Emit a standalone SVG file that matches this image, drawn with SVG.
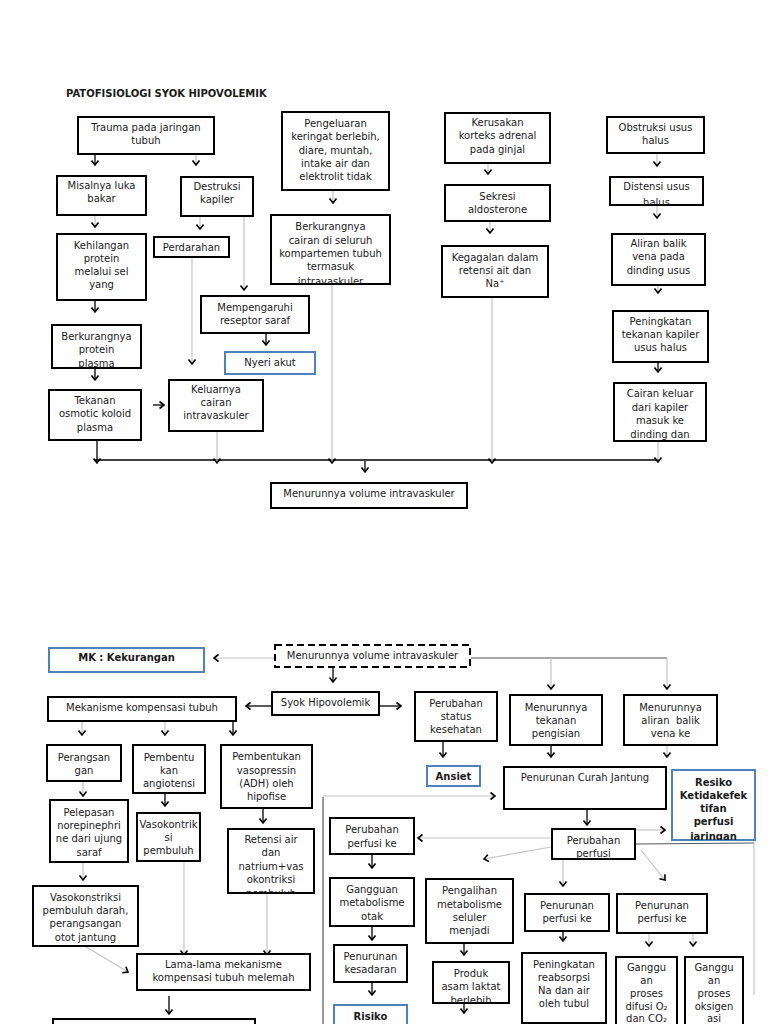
<svg xmlns="http://www.w3.org/2000/svg" width="768" height="1024" viewBox="0 0 768 1024">
<style>
.bx{fill:#fff;stroke:#000;stroke-width:2}
.bl{fill:#fff;stroke:#4f81bd;stroke-width:2}
.ds{fill:#fff;stroke:#000;stroke-width:2;stroke-dasharray:7,4}
text{font-family:"DejaVu Sans","Liberation Sans",sans-serif;font-size:10px;fill:#1a1a1a;text-anchor:middle}
.bd{font-weight:bold}
.ti{font-weight:bold;font-size:10px;text-anchor:start}
.g{stroke:#c4c4c4;stroke-width:1.2;fill:none}
.k{stroke:#000;stroke-width:1.3;fill:none}
.d{stroke:#555;stroke-width:1.2;fill:none}
</style>
<defs>
<marker id="a" markerWidth="8" markerHeight="8" refX="4.5" refY="3.5" orient="auto" markerUnits="userSpaceOnUse" overflow="visible"><path d="M0,0 L4.5,3.5 L0,7" fill="none" stroke="#000" stroke-width="1.6"/></marker>
<clipPath id="c7"><rect x="271" y="215" width="119" height="69"/></clipPath>
<clipPath id="c12"><rect x="610" y="177" width="93" height="28"/></clipPath>
<clipPath id="c15"><rect x="614" y="383" width="92" height="58"/></clipPath>
<clipPath id="c18"><rect x="52" y="325" width="89" height="43"/></clipPath>
<clipPath id="cR"><rect x="672" y="770" width="83" height="70"/></clipPath>
<clipPath id="cP"><rect x="433" y="962" width="76" height="41"/></clipPath>
<clipPath id="cL6"><rect x="228" y="829" width="86" height="64"/></clipPath>
</defs>
<rect width="768" height="1024" fill="#fff"/>
<text class="ti" x="66" y="97">PATOFISIOLOGI SYOK HIPOVOLEMIK</text>

<g id="connectors">
<line class="k" x1="95" y1="155" x2="95" y2="165" marker-end="url(#a)"/>
<line class="g" x1="196" y1="155" x2="196" y2="165" marker-end="url(#a)"/>
<line class="g" x1="95" y1="216" x2="95" y2="227" marker-end="url(#a)"/>
<line class="g" x1="200" y1="217" x2="200" y2="229" marker-end="url(#a)"/>
<line class="g" x1="244" y1="217" x2="244" y2="290" marker-end="url(#a)"/>
<line class="k" x1="95" y1="301" x2="95" y2="312" marker-end="url(#a)"/>
<line class="k" x1="95" y1="369" x2="95" y2="380" marker-end="url(#a)"/>
<line class="g" x1="192" y1="258" x2="192" y2="364" marker-end="url(#a)"/>
<line class="g" x1="333" y1="191" x2="333" y2="203" marker-end="url(#a)"/>
<line class="g" x1="488" y1="164" x2="488" y2="174" marker-end="url(#a)"/>
<line class="g" x1="490" y1="222" x2="490" y2="233" marker-end="url(#a)"/>
<line class="g" x1="657" y1="154" x2="657" y2="166" marker-end="url(#a)"/>
<line class="g" x1="657" y1="206" x2="657" y2="218" marker-end="url(#a)"/>
<line class="g" x1="658" y1="286" x2="658" y2="293" marker-end="url(#a)"/>
<line class="k" x1="658" y1="363" x2="658" y2="372" marker-end="url(#a)"/>
<line class="k" x1="266" y1="334" x2="266" y2="345" marker-end="url(#a)"/>
<line class="k" x1="153" y1="405" x2="164" y2="405" marker-end="url(#a)"/>
<line class="k" x1="95" y1="460" x2="660" y2="460"/>
<line class="k" x1="97" y1="441" x2="97" y2="463" marker-end="url(#a)"/>
<line class="g" x1="217" y1="432" x2="217" y2="463" marker-end="url(#a)"/>
<line class="g" x1="332" y1="285" x2="332" y2="463" marker-end="url(#a)"/>
<line class="g" x1="492" y1="298" x2="492" y2="463" marker-end="url(#a)"/>
<line class="g" x1="658" y1="442" x2="658" y2="462" marker-end="url(#a)"/>
<line class="k" x1="365" y1="461" x2="365" y2="472" marker-end="url(#a)"/>

<line class="g" x1="274" y1="658" x2="214" y2="658" marker-end="url(#a)"/>
<line class="k" x1="333" y1="668" x2="333" y2="682" marker-end="url(#a)"/>
<polyline class="d" points="471,658 667,658"/>
<line class="g" x1="551" y1="658" x2="551" y2="689" marker-end="url(#a)"/>
<line class="g" x1="667" y1="658" x2="667" y2="689" marker-end="url(#a)"/>
<line class="k" x1="271" y1="706" x2="246" y2="706" marker-end="url(#a)"/>
<line class="k" x1="380" y1="706" x2="401" y2="706" marker-end="url(#a)"/>
<line class="g" x1="82" y1="722" x2="82" y2="735" marker-end="url(#a)"/>
<line class="g" x1="165" y1="722" x2="165" y2="735" marker-end="url(#a)"/>
<line class="k" x1="233" y1="722" x2="233" y2="735" marker-end="url(#a)"/>
<line class="k" x1="443" y1="742" x2="443" y2="757" marker-end="url(#a)"/>
<line class="k" x1="551" y1="746" x2="551" y2="757" marker-end="url(#a)"/>
<line class="g" x1="667" y1="746" x2="667" y2="757" marker-end="url(#a)"/>
<line class="d" x1="323" y1="797" x2="323" y2="1024"/>
<line class="g" x1="323" y1="796" x2="495" y2="796" marker-end="url(#a)"/>
<line class="k" x1="587" y1="810" x2="587" y2="825" marker-end="url(#a)"/>
<line class="g" x1="636" y1="830" x2="665" y2="830" marker-end="url(#a)"/>
<line class="g" x1="551" y1="838" x2="418" y2="838" marker-end="url(#a)"/>
<line class="g" x1="551" y1="847" x2="484" y2="859" marker-end="url(#a)"/>
<line class="g" x1="641" y1="850" x2="665" y2="880" marker-end="url(#a)"/>
<polyline class="d" points="636,844 754,843"/>
<line class="g" x1="754" y1="843" x2="754" y2="995"/>
<line class="g" x1="563" y1="860" x2="563" y2="886" marker-end="url(#a)"/>
<line class="k" x1="372" y1="855" x2="372" y2="868" marker-end="url(#a)"/>
<line class="k" x1="372" y1="927" x2="372" y2="940" marker-end="url(#a)"/>
<line class="k" x1="372" y1="983" x2="372" y2="995" marker-end="url(#a)"/>
<line class="k" x1="464" y1="944" x2="464" y2="955" marker-end="url(#a)"/>
<line class="k" x1="464" y1="1004" x2="464" y2="1013" marker-end="url(#a)"/>
<line class="k" x1="563" y1="932" x2="563" y2="941" marker-end="url(#a)"/>
<line class="g" x1="649" y1="934" x2="649" y2="946" marker-end="url(#a)"/>
<line class="g" x1="693" y1="934" x2="693" y2="946" marker-end="url(#a)"/>
<line class="g" x1="83" y1="782" x2="83" y2="796" marker-end="url(#a)"/>
<line class="k" x1="165" y1="794" x2="165" y2="806" marker-end="url(#a)"/>
<line class="k" x1="263" y1="809" x2="263" y2="823" marker-end="url(#a)"/>
<line class="g" x1="83" y1="863" x2="83" y2="880" marker-end="url(#a)"/>
<line class="g" x1="184" y1="862" x2="184" y2="955" marker-end="url(#a)"/>
<line class="g" x1="267" y1="894" x2="267" y2="955" marker-end="url(#a)"/>
<line class="g" x1="83" y1="945" x2="128" y2="972" marker-end="url(#a)"/>
<line class="k" x1="169" y1="996" x2="169" y2="1014" marker-end="url(#a)"/>
</g>

<g id="n1"><rect class="bx" x="78" y="117" width="136" height="37"/><text x="146" y="131">Trauma pada jaringan</text><text x="146" y="144">tubuh</text></g>
<g id="n2"><rect class="bx" x="57" y="176" width="89" height="39"/><text x="101.5" y="189">Misalnya luka</text><text x="101.5" y="202">bakar</text></g>
<g id="n3"><rect class="bx" x="181" y="177" width="72" height="39"/><text x="217" y="190">Destruksi</text><text x="217" y="203">kapiler</text></g>
<g id="n4"><rect class="bx" x="57" y="234" width="89" height="66"/><text x="101.5" y="249">Kehilangan</text><text x="101.5" y="262">protein</text><text x="101.5" y="275">melalui sel</text><text x="101.5" y="288">yang</text></g>
<g id="n5"><rect class="bx" x="154" y="237" width="75" height="20"/><text x="191.5" y="251">Perdarahan</text></g>
<g id="n6"><rect class="bx" x="282" y="112" width="107" height="78"/><text x="335.5" y="127">Pengeluaran</text><text x="335.5" y="140">keringat berlebih,</text><text x="335.5" y="154">diare, muntah,</text><text x="335.5" y="167">intake air dan</text><text x="335.5" y="180">elektrolit tidak</text></g>
<g id="n7"><rect class="bx" x="271" y="215" width="119" height="69"/><g clip-path="url(#c7)"><text x="330.5" y="230">Berkurangnya</text><text x="330.5" y="244">cairan di seluruh</text><text x="330.5" y="257">kompartemen tubuh</text><text x="330.5" y="270">termasuk</text><text x="330.5" y="285">intravaskuler</text></g></g>
<g id="n8"><rect class="bx" x="445" y="113" width="105" height="50"/><text x="497.5" y="126">Kerusakan</text><text x="497.5" y="139">korteks adrenal</text><text x="497.5" y="153">pada ginjal</text></g>
<g id="n9"><rect class="bx" x="445" y="185" width="105" height="36"/><text x="497.5" y="200">Sekresi</text><text x="497.5" y="213">aldosterone</text></g>
<g id="n10"><rect class="bx" x="442" y="246" width="106" height="51"/><text x="495" y="261">Kegagalan dalam</text><text x="495" y="274">retensi ait dan</text><text x="495" y="287">Na⁺</text></g>
<g id="n11"><rect class="bx" x="607" y="117" width="97" height="36"/><text x="655.5" y="131">Obstruksi usus</text><text x="655.5" y="144">halus</text></g>
<g id="n12"><rect class="bx" x="610" y="177" width="93" height="28"/><g clip-path="url(#c12)"><text x="656.5" y="190">Distensi usus</text><text x="656.5" y="206">halus</text></g></g>
<g id="n13"><rect class="bx" x="612" y="234" width="93" height="51"/><text x="658.5" y="247">Aliran balik</text><text x="658.5" y="260">vena pada</text><text x="658.5" y="274">dinding usus</text></g>
<g id="n14"><rect class="bx" x="613" y="311" width="95" height="51"/><text x="660.5" y="325">Peningkatan</text><text x="660.5" y="338">tekanan kapiler</text><text x="660.5" y="351">usus halus</text></g>
<g id="n15"><rect class="bx" x="614" y="383" width="92" height="58"/><g clip-path="url(#c15)"><text x="660" y="397">Cairan keluar</text><text x="660" y="411">dari kapiler</text><text x="660" y="424">masuk ke</text><text x="660" y="438">dinding dan</text></g></g>
<g id="n16"><rect class="bx" x="201" y="296" width="108" height="37"/><text x="255" y="311">Mempengaruhi</text><text x="255" y="324">reseptor saraf</text></g>
<g id="n17"><rect class="bl" x="225" y="352" width="90" height="22"/><text x="270" y="366">Nyeri akut</text></g>
<g id="n18"><rect class="bx" x="52" y="325" width="89" height="43"/><g clip-path="url(#c18)"><text x="96.5" y="340">Berkurangnya</text><text x="96.5" y="353">protein</text><text x="96.5" y="367">plasma</text></g></g>
<g id="n19"><rect class="bx" x="49" y="390" width="92" height="50"/><text x="95" y="404">Tekanan</text><text x="95" y="417">osmotic koloid</text><text x="95" y="431">plasma</text></g>
<g id="n20"><rect class="bx" x="169" y="380" width="94" height="51"/><text x="216" y="393">Keluarnya</text><text x="216" y="406">cairan</text><text x="216" y="419">intravaskuler</text></g>
<g id="n21"><rect class="bx" x="271" y="483" width="196" height="25"/><text x="369" y="497">Menurunnya volume intravaskuler</text></g>

<g id="m1"><rect class="ds" x="275" y="645" width="195" height="22"/><text x="372.5" y="659">Menurunnya volume intravaskuler</text></g>
<g id="m2"><rect class="bl" x="49" y="648" width="155" height="24"/><text class="bd" x="126.5" y="661">MK : Kekurangan</text></g>
<g id="m3"><rect class="bx" x="272" y="692" width="107" height="23"/><text x="325.5" y="706">Syok Hipovolemik</text></g>
<g id="m4"><rect class="bx" x="48" y="697" width="188" height="24"/><text x="142" y="711">Mekanisme kompensasi tubuh</text></g>
<g id="m5"><rect class="bx" x="415" y="692" width="82" height="49"/><text x="456" y="707">Perubahan</text><text x="456" y="720">status</text><text x="456" y="733">kesehatan</text></g>
<g id="m6"><rect class="bx" x="510" y="695" width="92" height="50"/><text x="556" y="711">Menurunnya</text><text x="556" y="724">tekanan</text><text x="556" y="737">pengisian</text></g>
<g id="m7"><rect class="bx" x="624" y="695" width="93" height="50"/><text x="670.5" y="711">Menurunnya</text><text x="670.5" y="724" xml:space="preserve">aliran  balik</text><text x="670.5" y="737">vena ke</text></g>
<g id="m8"><rect class="bl" x="427" y="766" width="53" height="20"/><text class="bd" x="453.5" y="780">Ansiet</text></g>
<g id="m9"><rect class="bx" x="504" y="767" width="162" height="42"/><text x="585" y="781">Penurunan Curah Jantung</text></g>
<g id="m10"><rect class="bl" x="672" y="770" width="83" height="70"/><g clip-path="url(#cR)"><text class="bd" x="713.5" y="786">Resiko</text><text class="bd" x="713.5" y="799">Ketidakefek</text><text class="bd" x="713.5" y="812">tifan</text><text class="bd" x="713.5" y="825">perfusi</text><text class="bd" x="713.5" y="840">jaringan</text></g></g>
<g id="m11"><rect class="bx" x="552" y="829" width="83" height="30"/><text x="593.5" y="844">Perubahan</text><text x="593.5" y="857">perfusi</text></g>
<g id="m12"><rect class="bx" x="330" y="818" width="84" height="36"/><text x="372" y="833">Perubahan</text><text x="372" y="847">perfusi ke</text></g>
<g id="m13"><rect class="bx" x="330" y="878" width="84" height="48"/><text x="372" y="893">Gangguan</text><text x="372" y="906">metabolisme</text><text x="372" y="920">otak</text></g>
<g id="m14"><rect class="bx" x="334" y="945" width="73" height="37"/><text x="370.5" y="960">Penurunan</text><text x="370.5" y="973">kesadaran</text></g>
<g id="m15"><rect class="bl" x="334" y="1005" width="73" height="30"/><text class="bd" x="370.5" y="1020">Risiko</text></g>
<g id="m16"><rect class="bx" x="426" y="879" width="87" height="64"/><text x="469.5" y="894">Pengalihan</text><text x="469.5" y="908">metabolisme</text><text x="469.5" y="921">seluler</text><text x="469.5" y="934">menjadi</text></g>
<g id="m17"><rect class="bx" x="433" y="962" width="76" height="41"/><g clip-path="url(#cP)"><text x="471" y="977">Produk</text><text x="471" y="990">asam laktat</text><text x="471" y="1004">berlebih</text></g></g>
<g id="m18"><rect class="bx" x="525" y="894" width="84" height="37"/><text x="567" y="909">Penurunan</text><text x="567" y="922">perfusi ke</text></g>
<g id="m19"><rect class="bx" x="522" y="953" width="84" height="70"/><text x="564" y="968">Peningkatan</text><text x="564" y="981">reabsorpsi</text><text x="564" y="994">Na dan air</text><text x="564" y="1007">oleh tubul</text></g>
<g id="m20"><rect class="bx" x="617" y="894" width="90" height="39"/><text x="662" y="909">Penurunan</text><text x="662" y="922">perfusi ke</text></g>
<g id="m21"><rect class="bx" x="616" y="957" width="61" height="75"/><text x="646.5" y="971">Ganggu</text><text x="646.5" y="984">an</text><text x="646.5" y="997">proses</text><text x="646.5" y="1010">difusi O₂</text><text x="646.5" y="1022">dan CO₂</text></g>
<g id="m22"><rect class="bx" x="685" y="957" width="58" height="75"/><text x="714" y="971">Ganggu</text><text x="714" y="984">an</text><text x="714" y="997">proses</text><text x="714" y="1010">oksigen</text><text x="714" y="1022">asi</text></g>

<g id="l1"><rect class="bx" x="47" y="745" width="74" height="36"/><text x="84" y="761">Perangsan</text><text x="84" y="774">gan</text></g>
<g id="l2"><rect class="bx" x="133" y="745" width="72" height="48"/><text x="169" y="761">Pembentu</text><text x="169" y="774">kan</text><text x="169" y="787">angiotensi</text></g>
<g id="l3"><rect class="bx" x="221" y="745" width="91" height="63"/><text x="266.5" y="760">Pembentukan</text><text x="266.5" y="774">vasopressin</text><text x="266.5" y="787">(ADH) oleh</text><text x="266.5" y="800">hipofise</text></g>
<g id="l4"><rect class="bx" x="50" y="800" width="78" height="62"/><text x="89" y="816">Pelepasan</text><text x="89" y="829">norepinephri</text><text x="89" y="842">ne dari ujung</text><text x="89" y="856">saraf</text></g>
<g id="l5"><rect class="bx" x="137" y="813" width="63" height="48"/><text x="168.5" y="828">Vasokontrik</text><text x="168.5" y="841">si</text><text x="168.5" y="854">pembuluh</text></g>
<g id="l6"><rect class="bx" x="228" y="829" width="86" height="64"/><g clip-path="url(#cL6)"><text x="271" y="843">Retensi air</text><text x="271" y="856">dan</text><text x="271" y="870">natrium+vas</text><text x="271" y="883">okontriksi</text><text x="271" y="897">pembuluh</text></g></g>
<g id="l7"><rect class="bx" x="33" y="886" width="105" height="60"/><text x="85.5" y="901">Vasokonstriksi</text><text x="85.5" y="914">pembuluh darah,</text><text x="85.5" y="927">perangsangan</text><text x="85.5" y="941">otot jantung</text></g>
<g id="l8"><rect class="bx" x="137" y="954" width="173" height="36"/><text x="223.5" y="968">Lama-lama mekanisme</text><text x="223.5" y="981">kompensasi tubuh melemah</text></g>
<g id="l9"><rect class="bx" x="53" y="1019" width="202" height="20"/></g>
</svg>
